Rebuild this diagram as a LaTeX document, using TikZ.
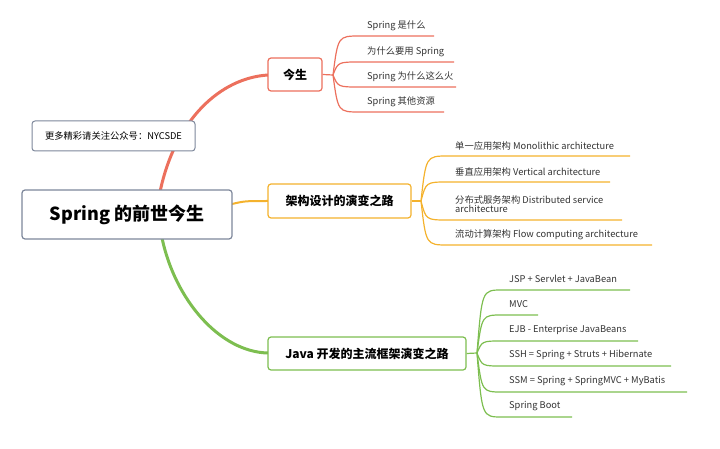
\documentclass[tikz,border=0pt]{standalone}
\usepackage{fontspec}
\setmainfont{Noto Sans CJK SC}
\definecolor{cR}{RGB}{236,112,93}
\definecolor{cO}{RGB}{244,178,45}
\definecolor{cG}{RGB}{125,190,80}
\definecolor{cB}{RGB}{125,135,155}
\begin{document}
\begin{tikzpicture}[x=1pt,y=-1pt,
  box/.style={draw=#1,line width=1.2pt,rounded corners=3pt,fill=white,inner sep=0pt},
  leaf/.style={anchor=west,font=\fontsize{9.3}{10}\selectfont,text=black!80,inner sep=0pt,align=left}]
\useasboundingbox (0,0) rectangle (720,449);
% main branches
\coordinate (rtop) at (160,192);
\coordinate (rbot) at (162,238);
\draw[cR,line width=3pt] (rtop) .. controls (175,120) and (220,78) .. (268,75);
\draw[cO,line width=2pt] (232,204) .. controls (245,201) .. (268,201);
\draw[cG,line width=3pt] (rbot) .. controls (175,300) and (220,352) .. (268,353);
% boxes
\node[box=cB,minimum width=210pt,minimum height=49pt,font=\bfseries\fontsize{18}{20}\selectfont] (root) at (127,214.5) {Spring 的前世今生};
\node[box=cB,line width=1pt,minimum width=163pt,minimum height=30pt,font=\fontsize{9.3}{10}\selectfont] (note) at (113.5,136) {更多精彩请关注公众号：NYCSDE};
\node[box=cR,minimum width=54pt,minimum height=33pt,font=\bfseries\fontsize{12}{14}\selectfont] (a) at (295,74.5) {今生};
\node[box=cO,minimum width=143pt,minimum height=34pt,font=\bfseries\fontsize{12}{14}\selectfont] (b) at (339.5,201) {架构设计的演变之路};
\node[box=cG,minimum width=198pt,minimum height=33pt,font=\bfseries\fontsize{12}{14}\selectfont] (c) at (367,353.5) {Java 开发的主流框架演变之路};
% junctions
\coordinate (ja) at (333,75);\draw[cR,line width=1.2pt] (a.east) -- (ja);
\coordinate (jb) at (421,201);\draw[cO,line width=1.2pt] (b.east) -- (jb);
\coordinate (jc) at (477,353);\draw[cG,line width=1.2pt] (c.east) -- (jc);
% leaves red
\foreach \y/\e/\t [count=\i] in {36/434/Spring 是什么, 62/454/为什么要用 Spring, 87/456/Spring 为什么这么火, 112/444/Spring 其他资源}{
  \node[leaf] (ra\i) at (367,\y-10) {\t};
  \coordinate (rae\i) at (\e,\y);
  \draw[cR,line width=1.2pt] (ja) .. controls (338,\y) .. (360,\y) -- (rae\i);}
% leaves orange
\foreach \y/\e/\t [count=\i] in {156/630/单一应用架构 Monolithic architecture, 182/610/垂直应用架构 Vertical architecture, 245/652/流动计算架构 Flow computing architecture}{
  \node[leaf] (ob\i) at (455,\y-10) {\t};
  \coordinate (obe\i) at (\e,\y);
  \draw[cO,line width=1.2pt] (jb) .. controls (426,\y) .. (448,\y) -- (obe\i);}
\node[leaf] (ob4) at (455,204) {分布式服务架构 Distributed service\\[-1pt]architecture};
\coordinate (obe4) at (622,220);
\draw[cO,line width=1.2pt] (jb) .. controls (426,220) .. (448,220) -- (obe4);
% leaves green
\foreach \y/\e/\t [count=\i] in {290/630/JSP + Servlet + JavaBean, 315/538/MVC, 341/638/EJB - Enterprise JavaBeans, 366/671/SSH = Spring + Struts + Hibernate, 392/687/SSM = Spring + SpringMVC + MyBatis, 417/572/Spring Boot}{
  \node[leaf] (gc\i) at (509,\y-11) {\t};
  \coordinate (gce\i) at (\e,\y);
  \draw[cG,line width=1.2pt] (jc) .. controls (482,\y) .. (502,\y) -- (gce\i);}
\end{tikzpicture}
\end{document}
